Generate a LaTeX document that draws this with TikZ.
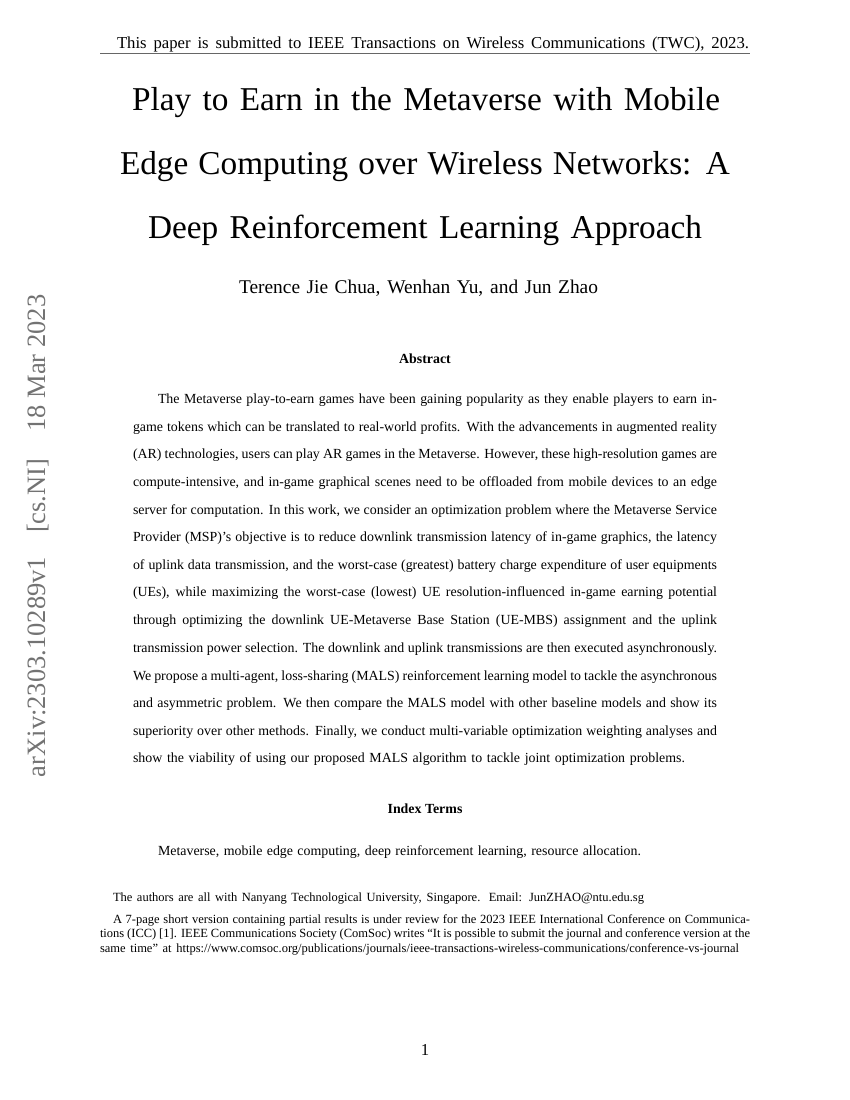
\documentclass[tikz,border=0pt]{standalone}
\usepackage{fontspec}
\setmainfont{Liberation Serif}
\newcommand{\fsz}[1]{\fontsize{#1}{#1}\selectfont}
\tikzset{
  txt/.style={inner sep=0pt,outer sep=0pt,anchor=base west,text=black},
  ctr/.style={inner sep=0pt,outer sep=0pt,anchor=base,text=black},
  stamp/.style={inner sep=0pt,outer sep=0pt,anchor=base west,rotate=90,text=black!55},
  headrule/.style={draw=black!60,line width=1pt}
}
% name, x, baseline y, width, font size, text
\newcommand{\lineat}[6]{\node[txt] (#1) at (#2,#3) {\fsz{#5}\makebox[#4pt][s]{#6}};}
\begin{document}
\begin{tikzpicture}[x=1pt,y=-1pt]
\useasboundingbox (0,0) rectangle (850,1100);
\fill[white] (0,0) rectangle (850,1100);
% stamp
\node[stamp] (arxiv) at (45,777) {\fsz{26.5}arXiv:2303.10289v1\hspace{24pt}[cs.NI]\hspace{27pt}18 Mar 2023};
% header
\lineat{head}{117}{48.5}{632}{16.7}{This paper is submitted to IEEE Transactions on Wireless Communications (TWC), 2023.}
\coordinate (ruleL) at (100,53.7);
\coordinate (ruleR) at (750,53.7);
\draw[headrule] (ruleL) -- (ruleR);
% title
\lineat{t1}{132}{110}{588}{33.3}{Play to Earn in the Metaverse with Mobile}
\lineat{t2}{120}{174}{610}{33.3}{Edge Computing over Wireless Networks: A}
\lineat{t3}{148}{238}{554}{33.3}{Deep Reinforcement Learning Approach}
\lineat{auth}{239}{293}{359}{19.4}{Terence Jie Chua, Wenhan Yu, and Jun Zhao}
% abstract
\node[ctr] (abshead) at (425,363) {\fsz{13.9}\bfseries Abstract};
\lineat{a1}{158}{403}{559}{13.9}{The Metaverse play-to-earn games have been gaining popularity as they enable players to earn in-}
\lineat{a2}{133}{431}{584}{13.9}{game tokens which can be translated to real-world profits. With the advancements in augmented reality}
\lineat{a3}{133}{458}{584}{13.9}{(AR) technologies, users can play AR games in the Metaverse. However, these high-resolution games are}
\lineat{a4}{133}{486}{584}{13.9}{compute-intensive, and in-game graphical scenes need to be offloaded from mobile devices to an edge}
\lineat{a5}{133}{514}{584}{13.9}{server for computation. In this work, we consider an optimization problem where the Metaverse Service}
\lineat{a6}{133}{541}{584}{13.9}{Provider (MSP)’s objective is to reduce downlink transmission latency of in-game graphics, the latency}
\lineat{a7}{133}{569}{584}{13.9}{of uplink data transmission, and the worst-case (greatest) battery charge expenditure of user equipments}
\lineat{a8}{133}{596}{584}{13.9}{(UEs), while maximizing the worst-case (lowest) UE resolution-influenced in-game earning potential}
\lineat{a9}{133}{624}{584}{13.9}{through optimizing the downlink UE-Metaverse Base Station (UE-MBS) assignment and the uplink}
\lineat{a10}{133}{652}{584}{13.9}{transmission power selection. The downlink and uplink transmissions are then executed asynchronously.}
\lineat{a11}{133}{680}{584}{13.9}{We propose a multi-agent, loss-sharing (MALS) reinforcement learning model to tackle the asynchronous}
\lineat{a12}{133}{707}{584}{13.9}{and asymmetric problem. We then compare the MALS model with other baseline models and show its}
\lineat{a13}{133}{735}{584}{13.9}{superiority over other methods. Finally, we conduct multi-variable optimization weighting analyses and}
\lineat{a14}{133}{762}{552}{13.9}{show the viability of using our proposed MALS algorithm to tackle joint optimization problems.}
% index terms
\node[ctr] (idxhead) at (425,813) {\fsz{13.9}\bfseries Index Terms};
\lineat{idx}{158}{855}{483}{13.9}{Metaverse, mobile edge computing, deep reinforcement learning, resource allocation.}
% footnotes
\lineat{f1}{113}{901.5}{531}{12.5}{The authors are all with Nanyang Technological University, Singapore. Email: JunZHAO@ntu.edu.sg}
\lineat{f2}{113}{923}{637}{12.5}{A 7-page short version containing partial results is under review for the 2023 IEEE International Conference on Communica-}
\lineat{f3}{100}{937.5}{650}{12.5}{tions (ICC) [1]. IEEE Communications Society (ComSoc) writes “It is possible to submit the journal and conference version at the}
\lineat{f4}{100}{952}{639}{12.5}{same time” at https://www.comsoc.org/publications/journals/ieee-transactions-wireless-communications/conference-vs-journal}
\node[ctr] (pg) at (425,1055) {\fsz{16.7}1};
\end{tikzpicture}
\end{document}
